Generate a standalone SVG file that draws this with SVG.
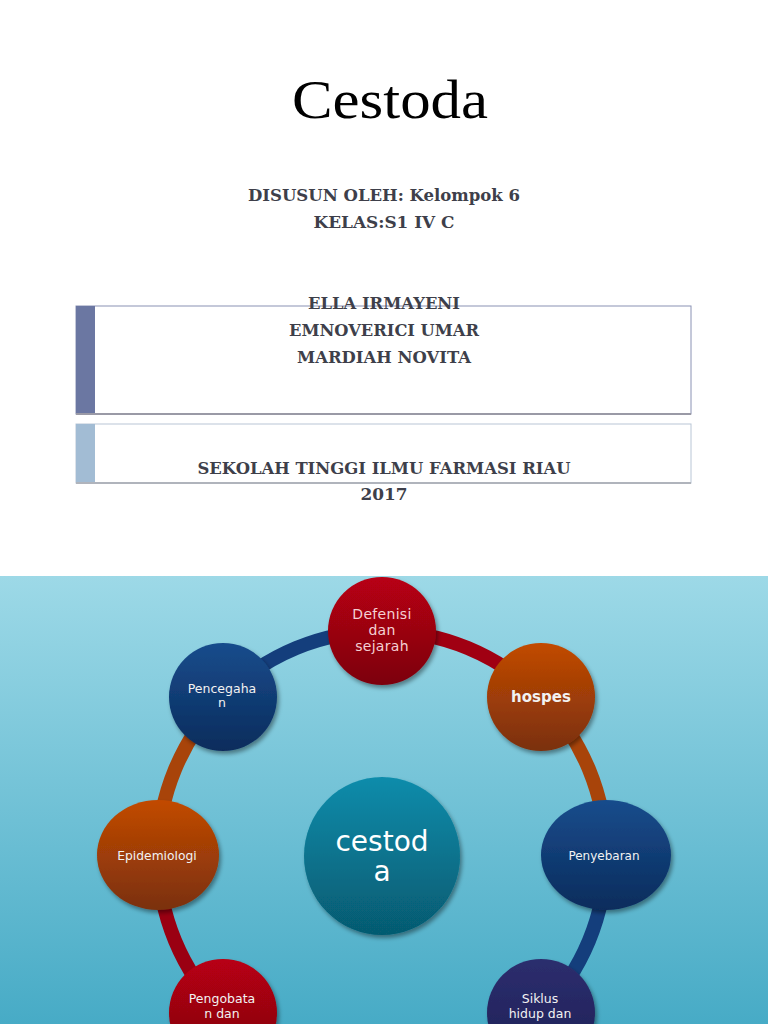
<svg xmlns="http://www.w3.org/2000/svg" width="768" height="1024" viewBox="0 0 768 1024">
<defs>
<style>
.ttl{font-family:"Liberation Serif","DejaVu Serif",serif;fill:#000}
.hd{font-family:"DejaVu Serif","Liberation Serif",serif;font-weight:bold;fill:#3e3f4a;text-anchor:middle}
.nt{font-family:"DejaVu Sans","Liberation Sans",sans-serif;text-anchor:middle;fill:#f2f2f2}
.arc{fill:none;stroke-width:14}
</style>
<linearGradient id="bg" x1="0" y1="0" x2="0" y2="1">
<stop offset="0" stop-color="#9dd9e7"/><stop offset="1" stop-color="#47abc6"/>
</linearGradient>
<linearGradient id="gRed" x1="0" y1="0" x2="0" y2="1">
<stop offset="0" stop-color="#b80012"/><stop offset="1" stop-color="#7c0010"/>
</linearGradient>
<linearGradient id="gOr" x1="0" y1="0" x2="0" y2="1">
<stop offset="0" stop-color="#c24a02"/><stop offset="1" stop-color="#7a300c"/>
</linearGradient>
<linearGradient id="gBlue" x1="0" y1="0" x2="0" y2="1">
<stop offset="0" stop-color="#184c8c"/><stop offset="1" stop-color="#0a2c5c"/>
</linearGradient>
<linearGradient id="gNavy" x1="0" y1="0" x2="0" y2="1">
<stop offset="0" stop-color="#2c2e6e"/><stop offset="1" stop-color="#1e1f55"/>
</linearGradient>
<linearGradient id="gTeal" x1="0" y1="0" x2="0" y2="1">
<stop offset="0" stop-color="#0a8cab"/><stop offset="1" stop-color="#065a70"/>
</linearGradient>
<filter id="sh" x="-20%" y="-20%" width="150%" height="150%">
<feDropShadow dx="2" dy="3" stdDeviation="2" flood-color="#000" flood-opacity="0.4"/>
</filter>
</defs>

<rect x="0" y="0" width="768" height="576" fill="#ffffff"/>
<text class="ttl" x="390" y="118" font-size="55" text-anchor="middle" textLength="196" lengthAdjust="spacingAndGlyphs">Cestoda</text>
<text class="hd" x="384" y="201" font-size="16" textLength="272" lengthAdjust="spacingAndGlyphs">DISUSUN OLEH: Kelompok 6</text>
<text class="hd" x="384" y="228" font-size="16" textLength="141" lengthAdjust="spacingAndGlyphs">KELAS:S1 IV C</text>

<g id="box1">
<rect x="76" y="306" width="615" height="108" fill="#ffffff" stroke="#8a92b4" stroke-width="1"/>
<rect x="76" y="306" width="19" height="108" fill="#6b77a2"/>
<line x1="76" y1="414" x2="691" y2="414" stroke="#9a9aa6" stroke-width="2"/>
</g>
<g id="box2">
<rect x="76" y="424" width="615" height="59" fill="#ffffff" stroke="#b9c6d6" stroke-width="1"/>
<rect x="76" y="424" width="19" height="59" fill="#a2bcd4"/>
<line x1="76" y1="483" x2="691" y2="483" stroke="#b0b4bc" stroke-width="2"/>
</g>
<text class="hd" x="384" y="309" font-size="16" textLength="152" lengthAdjust="spacingAndGlyphs">ELLA IRMAYENI</text>
<text class="hd" x="384" y="336" font-size="16" textLength="190" lengthAdjust="spacingAndGlyphs">EMNOVERICI UMAR</text>
<text class="hd" x="384" y="363" font-size="16" textLength="174" lengthAdjust="spacingAndGlyphs">MARDIAH NOVITA</text>
<text class="hd" x="384" y="474" font-size="16" textLength="373" lengthAdjust="spacingAndGlyphs">SEKOLAH TINGGI ILMU FARMASI RIAU</text>
<text class="hd" x="384" y="500" font-size="16" textLength="47" lengthAdjust="spacingAndGlyphs">2017</text>

<rect x="0" y="576" width="768" height="448" fill="url(#bg)"/>

<g id="connectors">
<path class="arc" stroke="#a00012" d="M382,631 A224,224 0 0 1 540.4,696.6"/>
<path class="arc" stroke="#a8440a" d="M540.4,696.6 A224,224 0 0 1 606,855"/>
<path class="arc" stroke="#143e7c" d="M606,855 A224,224 0 0 1 540.4,1013.4"/>
<path class="arc" stroke="#9a0012" d="M223.6,1013.4 A224,224 0 0 1 158,855"/>
<path class="arc" stroke="#a8440a" d="M158,855 A224,224 0 0 1 223.6,696.6"/>
<path class="arc" stroke="#143e7c" d="M223.6,696.6 A224,224 0 0 1 382,631"/>
</g>

<g id="n-defenisi">
<circle cx="382" cy="631" r="54" fill="url(#gRed)" filter="url(#sh)"/>
<text class="nt" x="382" y="619" font-size="14" letter-spacing="0.3" style="fill:#f4d0d4">Defenisi</text>
<text class="nt" x="382" y="635" font-size="14" letter-spacing="0.3" style="fill:#f4d0d4">dan</text>
<text class="nt" x="382" y="651" font-size="14" letter-spacing="0.3" style="fill:#f4d0d4">sejarah</text>
</g>
<g id="n-hospes">
<circle cx="541" cy="697" r="54" fill="url(#gOr)" filter="url(#sh)"/>
<text class="nt" x="541" y="702" font-size="15" font-weight="bold">hospes</text>
</g>
<g id="n-penyebaran">
<ellipse cx="606" cy="855" rx="65" ry="55" fill="url(#gBlue)" filter="url(#sh)"/>
<text class="nt" x="604" y="860" font-size="12">Penyebaran</text>
</g>
<g id="n-siklus">
<circle cx="541" cy="1013" r="54" fill="url(#gNavy)" filter="url(#sh)"/>
<text class="nt" x="540" y="1003" font-size="12.5">Siklus</text>
<text class="nt" x="540" y="1018" font-size="12.5">hidup dan</text>
</g>
<g id="n-pengobatan">
<circle cx="223" cy="1013" r="54" fill="url(#gRed)" filter="url(#sh)"/>
<text class="nt" x="222" y="1003" font-size="12.5">Pengobata</text>
<text class="nt" x="222" y="1018" font-size="12.5">n dan</text>
</g>
<g id="n-epidemiologi">
<ellipse cx="158" cy="855" rx="61" ry="55" fill="url(#gOr)" filter="url(#sh)"/>
<text class="nt" x="157" y="860" font-size="12.3">Epidemiologi</text>
</g>
<g id="n-pencegahan">
<circle cx="223" cy="697" r="54" fill="url(#gBlue)" filter="url(#sh)"/>
<text class="nt" x="222" y="693" font-size="12.5">Pencegaha</text>
<text class="nt" x="222" y="707" font-size="12.5">n</text>
</g>
<g id="n-cestoda">
<ellipse cx="382" cy="856" rx="78" ry="79" fill="url(#gTeal)" filter="url(#sh)"/>
<text class="nt" x="382" y="851" font-size="28" style="fill:#ffffff">cestod</text>
<text class="nt" x="382" y="881" font-size="28" style="fill:#ffffff">a</text>
</g>
</svg>
